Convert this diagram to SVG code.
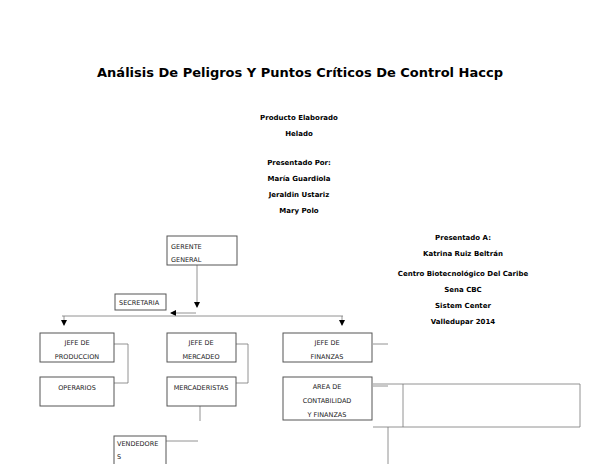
<svg xmlns="http://www.w3.org/2000/svg" width="600" height="464" viewBox="0 0 600 464">
<style>
text{font-family:"DejaVu Sans",sans-serif;fill:#000}
.t{font-size:13px;font-weight:bold}
.b{font-size:7px;font-weight:bold;text-anchor:middle}
.n{font-size:6.5px;fill:#222}
.c{text-anchor:middle}
rect{fill:#fff;stroke:#555;stroke-width:1}
.l{fill:none;stroke:#777;stroke-width:0.8}
</style>
<defs><marker id="a" markerWidth="6" markerHeight="6" refX="5" refY="3" orient="auto" markerUnits="userSpaceOnUse"><path d="M0,0L6,3L0,6z" fill="#000"/></marker></defs>
<rect width="600" height="464" style="stroke:none"/>
<text class="t" x="300" y="77" text-anchor="middle">Análisis De Peligros Y Puntos Críticos De Control Haccp</text>
<g>
<text class="b" x="299" y="120">Producto Elaborado</text>
<text class="b" x="299" y="136">Helado</text>
<text class="b" x="299" y="165">Presentado Por:</text>
<text class="b" x="299" y="181">María Guardiola</text>
<text class="b" x="299" y="197">Jeraldin Ustariz</text>
<text class="b" x="299" y="213">Mary Polo</text>
<text class="b" x="463" y="240">Presentado A:</text>
<text class="b" x="463" y="256">Katrina Ruiz Beltrán</text>
<text class="b" x="463" y="276">Centro Biotecnológico Del Caribe</text>
<text class="b" x="463" y="292">Sena CBC</text>
<text class="b" x="463" y="308">Sistem Center</text>
<text class="b" x="463" y="324">Valledupar  2014</text>
</g>
<g id="connectors">
<path class="l" d="M197,262V307" marker-end="url(#a)"/>
<path class="l" d="M196,313H171" marker-end="url(#a)"/>
<path class="l" d="M62,316H343"/>
<path class="l" d="M64,316V325" marker-end="url(#a)"/>
<path class="l" d="M342,316V325" marker-end="url(#a)"/>
<path class="l" d="M114,344H128V383H113"/>
<path class="l" d="M236,344H248V383H236"/>
<path class="l" d="M200,390V421"/>
<path class="l" d="M166,441H198"/>
<path class="l" d="M373,344H388"/>
<path class="l" d="M373,386H388"/>
<path class="l" d="M373,384H580V427H373M403,384V427M388,427V464"/>
</g>
<g id="gerente"><rect x="167" y="236" width="70" height="29"/><text class="n" x="171" y="249">GERENTE</text><text class="n" x="171" y="262">GENERAL</text></g>
<g id="secretaria"><rect x="115" y="294" width="51" height="16"/><text class="n" x="119" y="305">SECRETARIA</text></g>
<g id="produccion"><rect x="40" y="333" width="74" height="29"/><text class="n c" x="77" y="345">JEFE DE</text><text class="n c" x="77" y="359">PRODUCCION</text></g>
<g id="operarios"><rect x="40" y="377" width="74" height="29"/><text class="n c" x="77" y="390">OPERARIOS</text></g>
<g id="mercadeo"><rect x="167" y="333" width="69" height="29"/><text class="n c" x="201" y="345">JEFE DE</text><text class="n c" x="201" y="359">MERCADEO</text></g>
<g id="mercaderistas"><rect x="167" y="377" width="69" height="29"/><text class="n c" x="201" y="390">MERCADERISTAS</text></g>
<g id="vendedores"><rect x="114" y="436" width="52" height="30"/><text class="n" x="117" y="446">VENDEDORE</text><text class="n" x="117" y="459">S</text></g>
<g id="finanzas"><rect x="283" y="333" width="89" height="29"/><text class="n c" x="327" y="345">JEFE DE</text><text class="n c" x="327" y="359">FINANZAS</text></g>
<g id="area"><rect x="283" y="377" width="89" height="43"/><text class="n c" x="327" y="389">AREA DE</text><text class="n c" x="327" y="403">CONTABILIDAD</text><text class="n c" x="327" y="417">Y FINANZAS</text></g>
</svg>
